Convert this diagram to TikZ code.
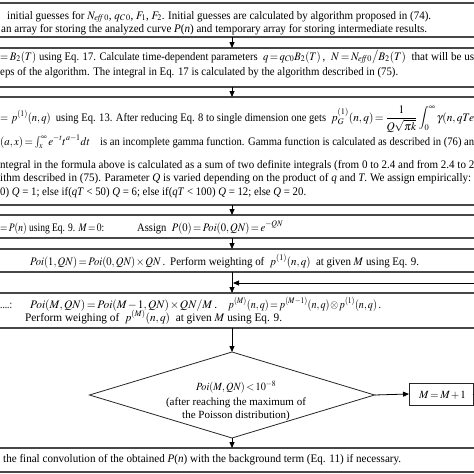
\documentclass[tikz,border=0pt]{standalone}
\usepackage{amsmath}
\usepackage{mathptmx}
\usepackage{graphicx}
\usepackage[no-math]{fontspec}
\setmainfont{Liberation Serif}
\usetikzlibrary{arrows.meta,shapes.geometric}
\newcommand{\fitw}[2]{\resizebox{#1pt}{\height}{#2}}
\thickmuskip=2.5mu plus 1mu
\medmuskip=1.5mu plus 1mu
\begin{document}
\begin{tikzpicture}[x=1pt,y=-1pt,
  flowbox/.style={draw=black!72,line width=1.3pt,minimum width=520pt,inner sep=0pt,outer sep=0pt,anchor=north},
  txt/.style={anchor=base west,inner sep=0pt,font=\fontsize{11.5}{13}\selectfont},
  ctxt/.style={anchor=base,inner sep=0pt,font=\fontsize{11}{13}\selectfont},
  arr/.style={-{Triangle[length=6pt,width=5pt]},line width=0.8pt,draw=black},
  ]
\useasboundingbox (0,0) rectangle (474,474);
\clip (0,0) rectangle (474,474);
\fill[white] (0,0) rectangle (474,474);
% boxes
\node[flowbox,minimum height=34pt] (b1) at (232,3) {};
\node[flowbox,minimum height=39pt] (b2) at (232,48) {};
\node[flowbox,minimum height=108pt] (b3) at (232,97) {};
\node[flowbox,minimum height=23pt] (b4) at (232,215) {};
\node[flowbox,minimum height=23pt] (b5) at (232,249) {};
\node[flowbox,minimum height=35pt] (b6) at (232,293) {};
\node[diamond,draw=black!85,line width=0.8pt,minimum width=285pt,minimum height=86pt,inner sep=0pt,outer sep=0pt] (d) at (232,395) {};
\node[draw=black!85,line width=0.8pt,minimum width=64pt,minimum height=22pt,inner sep=0pt,outer sep=0pt] (m) at (441,394) {};
\node[flowbox,minimum height=24pt] (b7) at (232,448) {};
% texts, box 1
\node[txt] (t1a) at (7,19) {\fitw{424}{initial guesses for $N_{\mathit{eff}\,0}$, $q_{C\,0}$, $F_1$, $F_2$. Initial guesses are calculated by algorithm proposed in (74).}};
\node[txt] (t1b) at (1,32) {\fitw{426}{an array for storing the analyzed curve \textit{P}(\textit{n}) and temporary array for storing intermediate results.}};
% box 2
\node[txt] (t2a) at (0,60) {\fitw{325}{$=B_2(T)$ using Eq. 17. Calculate time-dependent parameters \ $q=q_{C0}B_2(T)$\,,}};
\node[txt] (t2b) at (331,60) {\fitw{143}{$N=N_{\mathit{eff}0}\big/B_2(T)$ \ that will be us}};
\node[txt] (t2c) at (0,75) {\fitw{398}{eps of the algorithm. The integral in Eq. 17 is calculated by the algorithm described in (75).}};
% box 3
\node[txt] (t3a) at (0,121) {\fitw{326}{$=\;p^{(1)}(n,q)$ \ using Eq. 13. After reducing Eq. 8 to single dimension one gets}};
\node[txt] (t3b) at (331,121) {\fitw{143}{$p_G^{(1)}(n,q)=\dfrac{1}{Q\sqrt{\pi k}}\displaystyle\int_0^\infty\gamma(n,qTe$}};
\node[txt] (t3c) at (0,145) {\fitw{90}{$(a,x)=\int_x^\infty e^{-t}t^{a-1}dt$}};
\node[txt] (t3d) at (100,145) {\fitw{374}{is an incomplete gamma function. Gamma function is calculated as described in (76) an}};
\node[txt] (t3e) at (0,168) {\fitw{474}{ntegral in the formula above is calculated as a sum of two definite integrals (from 0 to 2.4 and from 2.4 to 2}};
\node[txt] (t3f) at (0,181) {\fitw{471}{ithm described in (75). Parameter \textit{Q} is varied depending on the product of \textit{q} and \textit{T}. We assign empirically:}};
\node[txt] (t3g) at (0,195) {\fitw{306}{0) \textit{Q} = 1; else if(\textit{qT} < 50) \textit{Q} = 6; else if(\textit{qT} < 100) \textit{Q} = 12; else \textit{Q} = 20.}};
% box 4
\node[txt] (t4a) at (0,231) {\fitw{104}{$=P(n)$ using Eq. 9. $M=0$:}};
\node[txt] (t4b) at (137,231) {\fitw{146}{Assign \ $P(0)=\mathit{Poi}(0,QN)=e^{-QN}$}};
% box 5
\node[txt] (t5a) at (30,265) {\fitw{135}{$\mathit{Poi}(1,QN)=\mathit{Poi}(0,QN)\times QN$\,.}};
\node[txt] (t5b) at (170,265) {\fitw{249}{Perform weighting of \ $p^{(1)}(n,q)$ \ at given $M$ using Eq. 9.}};
% box 6
\node[txt] (t6a) at (0,308) {\fitw{12}{....:}};
\node[txt] (t6b) at (30,308) {\fitw{187}{$\mathit{Poi}(M,QN)=\mathit{Poi}(M-1,QN)\times QN/M$\,.}};
\node[txt] (t6c) at (228,308) {\fitw{153}{$p^{(M)}(n,q)=p^{(M-1)}(n,q)\otimes p^{(1)}(n,q)$\,.}};
\node[txt] (t6d) at (25,321) {\fitw{257}{Perform weighing of \ $p^{(M)}(n,q)$ \ at given $M$ using Eq. 9.}};
% diamond and M box
\node[ctxt] (td1) at (236,390) {\fitw{80}{$\mathit{Poi}(M,QN)<10^{-8}$}};
\node[ctxt] (td2) at (236,405) {(after reaching the maximum of};
\node[ctxt] (td3) at (236,418) {the Poisson distribution)};
\node[ctxt] (tm) at (442.5,398) {\fitw{47}{$M=M+1$}};
% box 7
\node[txt] (t7) at (3,462) {\fitw{398}{the final convolution of the obtained \textit{P}(\textit{n}) with the background term (Eq. 11) if necessary.}};
% connectors
\coordinate (j) at (233,283);
\coordinate (fbr) at (500,283);
\draw[arr] (b1.south) -- (b2.north);
\draw[arr] (b2.south) -- (b3.north);
\draw[arr] (b3.south) -- (b4.north);
\draw[arr] (b4.south) -- (b5.north);
\draw[arr] (b5.south) -- (b6.north);
\draw[arr] (b6.south) -- (d.north);
\draw[arr] (d.east) -- (m.west);
\draw[arr] (d.south) -- (b7.north);
\draw[arr] (m.east) -| (fbr) -- (j);
\end{tikzpicture}
\end{document}
